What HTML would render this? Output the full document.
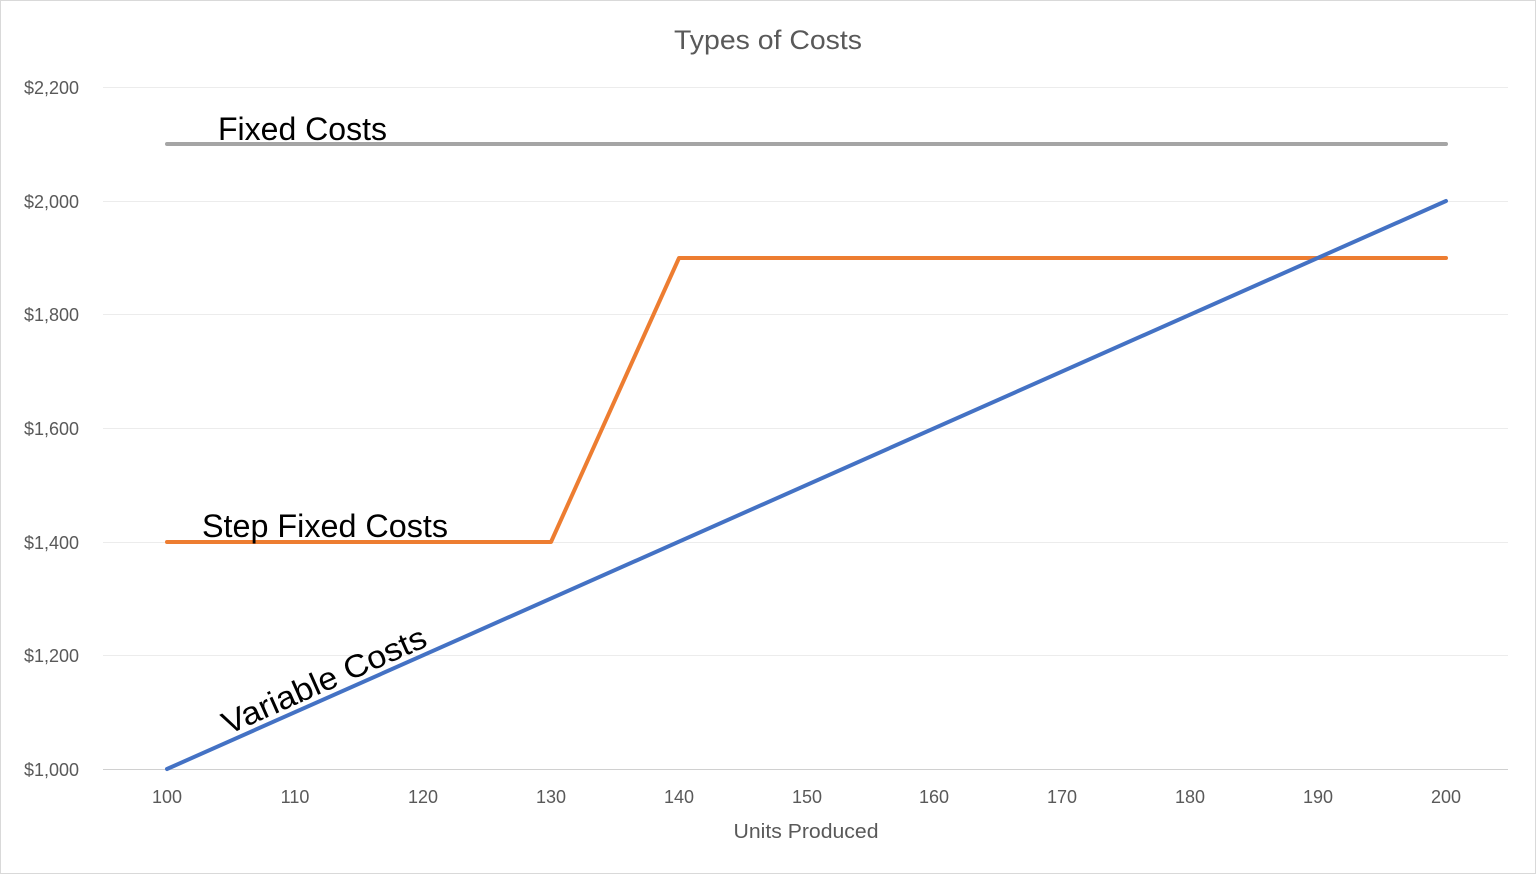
<!DOCTYPE html>
<html><head><meta charset="utf-8"><style>
html,body{margin:0;padding:0;background:#fff;}
svg{display:block;}
text{font-family:"Liberation Sans",sans-serif;}
</style></head><body>
<svg width="1536" height="874" viewBox="0 0 1536 874" xmlns="http://www.w3.org/2000/svg">
<rect x="0.5" y="0.5" width="1535" height="873" fill="#fff" stroke="#d9d9d9"/>
<text x="768" y="49" text-anchor="middle" font-size="27" fill="#595959" textLength="188" lengthAdjust="spacingAndGlyphs">Types of Costs</text>
<g stroke="#ececec" stroke-width="1">
<line x1="103" x2="1508" y1="87.5" y2="87.5"/>
<line x1="103" x2="1508" y1="201.5" y2="201.5"/>
<line x1="103" x2="1508" y1="314.5" y2="314.5"/>
<line x1="103" x2="1508" y1="428.5" y2="428.5"/>
<line x1="103" x2="1508" y1="542.5" y2="542.5"/>
<line x1="103" x2="1508" y1="655.5" y2="655.5"/>
</g>
<line x1="103" x2="1508" y1="769.5" y2="769.5" stroke="#d0d0d0"/>
<g font-size="18" fill="#595959" text-anchor="end">
<text x="79" y="94">$2,200</text>
<text x="79" y="208">$2,000</text>
<text x="79" y="321">$1,800</text>
<text x="79" y="435">$1,600</text>
<text x="79" y="549">$1,400</text>
<text x="79" y="662">$1,200</text>
<text x="79" y="776">$1,000</text>
</g>
<g font-size="18" fill="#595959" text-anchor="middle">
<text x="167" y="803">100</text>
<text x="295" y="803">110</text>
<text x="423" y="803">120</text>
<text x="551" y="803">130</text>
<text x="679" y="803">140</text>
<text x="807" y="803">150</text>
<text x="934" y="803">160</text>
<text x="1062" y="803">170</text>
<text x="1190" y="803">180</text>
<text x="1318" y="803">190</text>
<text x="1446" y="803">200</text>
</g>
<text x="806" y="838" text-anchor="middle" font-size="20" fill="#595959" textLength="145" lengthAdjust="spacingAndGlyphs">Units Produced</text>
<polyline points="167,144 1446,144" fill="none" stroke="#a5a5a5" stroke-width="4" stroke-linecap="round"/>
<polyline points="167,542 551,542 679,258 1446,258" fill="none" stroke="#ed7d31" stroke-width="4" stroke-linecap="round" stroke-linejoin="round"/>
<polyline points="167,769 1446,201" fill="none" stroke="#4472c4" stroke-width="4" stroke-linecap="round"/>
<g font-size="32" fill="#000">
<text x="218" y="140" textLength="169" lengthAdjust="spacingAndGlyphs">Fixed Costs</text>
<text x="202" y="537" textLength="246" lengthAdjust="spacingAndGlyphs">Step Fixed Costs</text>
<text x="0" y="0" textLength="220" lengthAdjust="spacingAndGlyphs" transform="translate(228,735) rotate(-24)">Variable Costs</text>
</g>
</svg>
</body></html>
